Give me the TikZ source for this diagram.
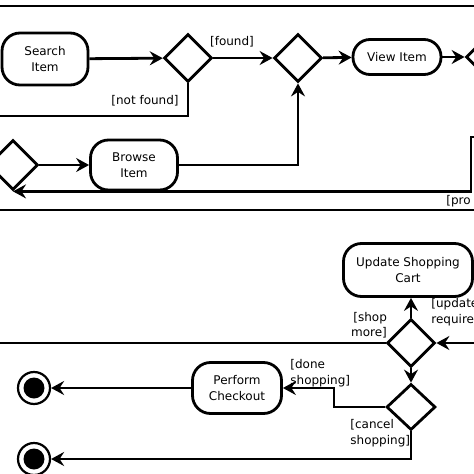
\documentclass[tikz,border=0pt]{standalone}
\usepackage{fontspec}
\setmainfont{DejaVu Sans}
\usetikzlibrary{shapes.geometric,arrows.meta}

\begin{document}
\begin{tikzpicture}[x=1pt, y=-1pt, line width=2.8pt,
  act/.style={rectangle, draw, rounded corners=18pt, align=center, font=\fontsize{12}{16}\selectfont},
  dec/.style={diamond, draw, minimum width=48pt, minimum height=48pt, inner sep=0pt},
  final/.style={circle, draw, line width=2.2pt, minimum size=32pt, inner sep=0pt,
    path picture={\fill (path picture bounding box.center) circle (10.5pt);}},
  guard/.style={inner sep=0pt, font=\fontsize{12}{15.5}\selectfont},
  flow/.style={-{Stealth[length=13pt, width=14pt, inset=4.5pt]}}]
\useasboundingbox (0,0) rectangle (474,474);
\clip (0,0) rectangle (474,474);

\draw (-10,6) rectangle (490,210);

\node[act, minimum width=86pt, minimum height=52pt] (S) at (45,59) {Search\\Item};
\node[dec] (F) at (188,58) {};
\node[dec] (M) at (298,58) {};
\node[act, rounded corners=17pt, minimum width=88pt, minimum height=35pt] (V) at (397,57) {View Item};
\node[dec] (N) at (490,57) {};
\node[dec, minimum width=50pt, minimum height=50pt] (L) at (13,165) {};
\node[act, minimum width=87pt, minimum height=50pt] (B) at (134,165) {Browse\\Item};
\coordinate (NF) at (-20,116);
\coordinate (P) at (490,137);

\path[flow] (S) edge (F)
            (F) edge (M)
            (M) edge (V)
            (V) edge (N)
            (L) edge (B);
\draw (F) |- (NF);
\draw[flow] (B) -| (M);
\draw[flow] (P) -- ++(-19,0) |- (L.south);

\node[guard] at (232,42) {[found]};
\node[guard] at (145,101) {[not found]};
\node[guard, anchor=west] at (445,201) {[pro};

\node[dec] (D) at (411,343) {};
\node[act, minimum width=129pt, minimum height=53pt] (U) at (408,270) {Update Shopping\\Cart};
\node[dec, minimum width=49pt, minimum height=46pt] (C) at (411,407) {};
\node[act, minimum width=89pt, minimum height=51pt] (K) at (237,388) {Perform\\Checkout};
\node[final] (E1) at (34,388) {};
\node[final] (E2) at (34,459) {};
\coordinate (UR) at (490,343);
\coordinate (SM) at (-20,343);

\draw[flow] (D.north) -- (D.north |- U.south);
\draw[flow] (D) -- (C);
\draw[flow] (UR) -- (D);
\draw[flow] (D) -- (SM);
\draw[flow] (C) -- ++(-77,0) |- (K);
\draw[flow] (K) -- (E1);
\draw[flow] (C) |- (E2);

\node[guard, align=right] at (369,325) {[shop\\more]};
\node[guard, align=left, anchor=west] at (430,312) {[update\\required]};
\node[guard, align=left, anchor=west] at (289,373) {[done\\shopping]};
\node[guard, align=left, anchor=west] at (349,433) {[cancel\\shopping]};
\end{tikzpicture}
\end{document}
